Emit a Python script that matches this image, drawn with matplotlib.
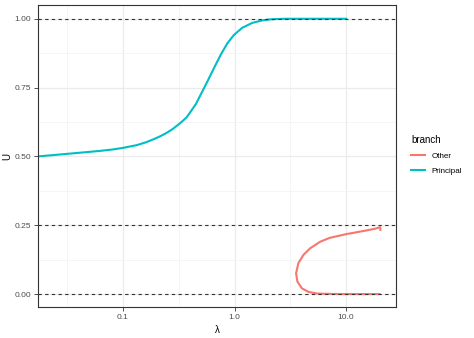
import numpy as np
import matplotlib.pyplot as plt
from matplotlib.lines import Line2D

plt.rcParams['font.family'] = ['Liberation Sans', 'DejaVu Sans']

# Principal branch (lambda, U)
principal_lambda = [0.0173, 0.031, 0.062, 0.08, 0.1, 0.133, 0.16, 0.187, 0.215, 0.245,
                    0.28, 0.328, 0.37, 0.403, 0.45, 0.495, 0.569, 0.652, 0.749,
                    0.859, 0.986, 1.17, 1.44, 1.77, 2.10, 2.8, 4.0, 6.0, 10.0]
principal_u = [0.500, 0.509, 0.520, 0.525, 0.531, 0.541, 0.551, 0.562, 0.573, 0.585,
               0.600, 0.622, 0.641, 0.662, 0.690, 0.723, 0.771, 0.820, 0.868,
               0.910, 0.941, 0.967, 0.985, 0.994, 0.998, 1.0, 1.0, 1.0, 1.0]

# Other branch, traced from the upper tip round the fold to the lower end
other_lambda = [20.3, 20.2, 18.0, 14.3, 10.1, 7.1, 5.85, 4.75, 4.14, 3.73, 3.56,
                3.66, 4.01, 4.59, 5.46, 6.5, 9.0, 14.0, 20.0]
other_u = [0.233, 0.243, 0.237, 0.229, 0.218, 0.204, 0.190, 0.166, 0.142, 0.112, 0.075,
           0.045, 0.021, 0.008, 0.002, 0.001, 0.0, 0.0, 0.0]

ref_levels = [0.0, 0.25, 1.0]
x_breaks = [0.1, 1.0, 10.0]
x_labels = ['0.1', '1.0', '10.0']
y_breaks = [0.0, 0.25, 0.5, 0.75, 1.0]
y_labels = ['0.00', '0.25', '0.50', '0.75', '1.00']

col_other = '#F8766D'
col_principal = '#00BFC4'

W, H = 474, 338
fig = plt.figure(figsize=(W / 100, H / 100), dpi=100)
ax = fig.add_axes([38 / W, (H - 307) / H, 358 / W, 302 / H])

ax.set_xscale('log')
ax.set_xlim(0.0173, 28)
ax.set_ylim(-0.047, 1.05)

# grid (ggplot theme_bw)
minor_x = [10 ** -1.5, 10 ** -0.5, 10 ** 0.5]
for v in minor_x:
    ax.axvline(v, color='#f2f2f2', lw=0.5, zorder=0)
for v in x_breaks:
    ax.axvline(v, color='#ebebeb', lw=0.9, zorder=0)
for v in [0.125, 0.375, 0.625, 0.875]:
    ax.axhline(v, color='#f2f2f2', lw=0.5, zorder=0)
for v in y_breaks:
    ax.axhline(v, color='#ebebeb', lw=0.9, zorder=0)

ax.plot(other_lambda, other_u, color=col_other, lw=1.5, zorder=2,
        solid_joinstyle='round')
ax.plot(principal_lambda, principal_u, color=col_principal, lw=1.5, zorder=2,
        solid_joinstyle='round')

for v in ref_levels:
    ax.axhline(v, color='#333333', lw=0.8, ls=(0, (3, 3)), zorder=3)

ax.set_xticks(x_breaks)
ax.set_xticklabels(x_labels)
ax.xaxis.set_minor_locator(plt.NullLocator())
ax.set_yticks(y_breaks)
ax.set_yticklabels(y_labels)

for s in ax.spines.values():
    s.set_color('#333333')
    s.set_linewidth(0.8)
ax.tick_params(axis='both', colors='#333333', labelcolor='#4d4d4d', labelsize=6,
               length=3, width=0.6, pad=2)

ax.set_xlabel('λ', fontsize=7, color='black', labelpad=3)
ax.set_ylabel('U', fontsize=7, color='black')
ax.yaxis.set_label_coords(-0.072, 0.5)

# legend
handles = [Line2D([], [], color=col_other, lw=1.5),
           Line2D([], [], color=col_principal, lw=1.5)]
leg = fig.legend(handles, ['Other', 'Principal'], title='branch',
                 loc='upper left', bbox_to_anchor=(404 / W, 1 - 128 / H),
                 frameon=False, fontsize=5.8, title_fontsize=7,
                 handlelength=1.75, handletextpad=0.75, labelspacing=0.9)
leg._legend_box.align = 'left'

fig.savefig('out.png', dpi=100)
